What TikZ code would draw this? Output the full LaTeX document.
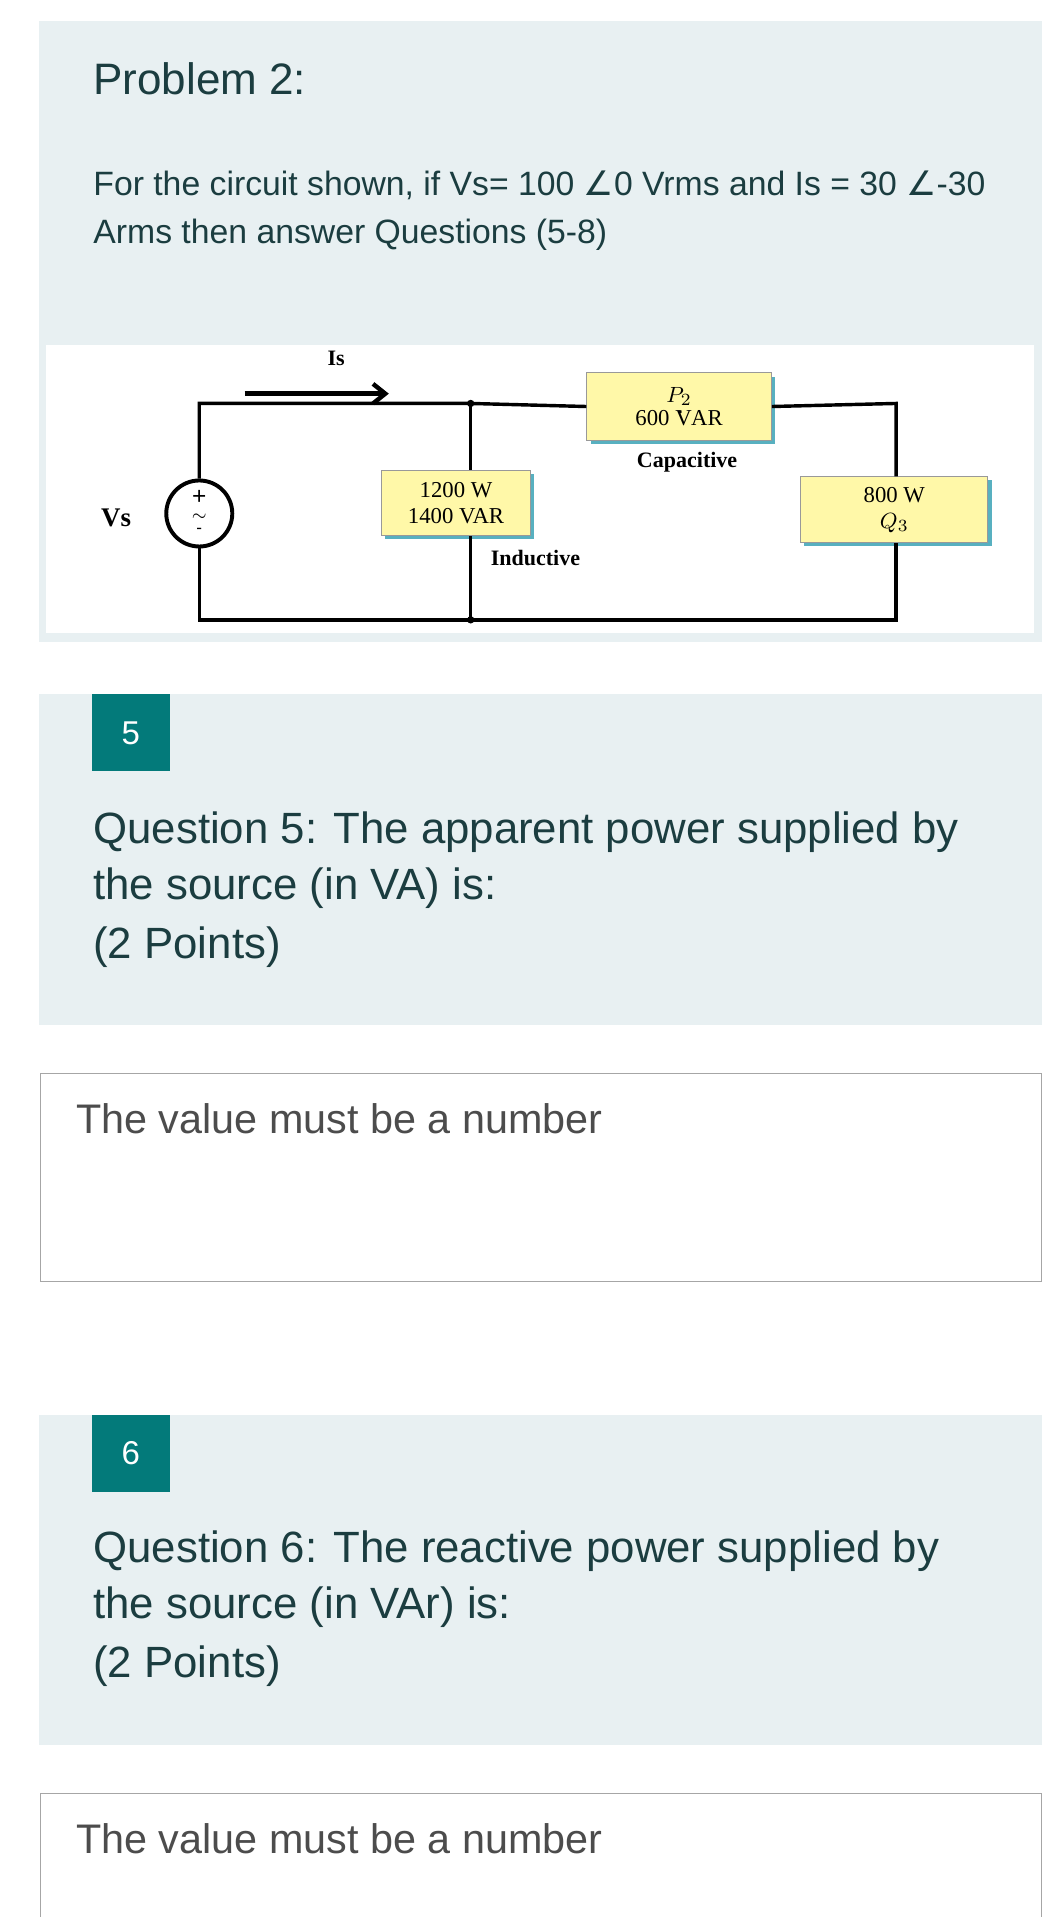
\documentclass[tikz,border=0pt]{standalone}
\usepackage{fontspec}
\usetikzlibrary{arrows.meta}
\setmainfont{Liberation Sans}
\newfontfamily\ser{Liberation Serif}
\newfontfamily\djv{DejaVu Sans}
\begin{document}
\begin{tikzpicture}[x=0.5pt,y=-0.5pt,
  panel/.style={fill=panelc,draw=none},
  qtext/.style={anchor=base west,inner sep=0,text=txtc,font=\fontsize{17.9}{20}\selectfont},
  numbox/.style={fill=tealc,minimum width=32pt,minimum height=31.5pt,inner sep=0,text=white,font=\fontsize{13.5}{15}\selectfont},
  inbox/.style={draw=gray!70,fill=white,line width=0.6pt},
  hint/.style={anchor=base west,inner sep=0,text=black!70,font=\fontsize{16.9}{20}\selectfont},
  load/.style={draw=gray!80,fill=loadc,inner sep=0,font=\ser\fontsize{9.3}{10.5}\selectfont,align=center},
  shadow/.style={fill=shc,draw=none},
  lbl/.style={font=\ser\bfseries\fontsize{9}{10}\selectfont,inner sep=0},
  wire/.style={line width=1.4pt},
  dot/.style={circle,fill=black,inner sep=0,minimum size=3pt}]
\definecolor{panelc}{HTML}{E8F0F2}
\definecolor{tealc}{HTML}{037A7A}
\definecolor{txtc}{HTML}{1B3D40}
\definecolor{loadc}{HTML}{FFF8A8}
\definecolor{shc}{HTML}{58B0C0}
\useasboundingbox (0,0) rectangle (868,1568);
\fill[white] (0,0) rectangle (868,1568);
% panel 1
\fill[panel] (32,17) rectangle (852,525);
\node[qtext,font=\fontsize{18}{20}\selectfont] (p2) at (76,77) {Problem 2:};
\node[qtext,font=\fontsize{13.8}{16}\selectfont] (l1) at (76,160) {For the circuit shown, if Vs= 100 {\djv∠}0 Vrms and Is = 30 {\djv∠}-30};
\node[qtext,font=\fontsize{13.8}{16}\selectfont] (l2) at (76,199) {Arms then answer Questions (5-8)};
\fill[white] (38,282) rectangle (846,518);
% circuit
\coordinate (tl) at (163,330);
\coordinate (bl) at (163,507);
\coordinate (jt) at (385,330);
\coordinate (jb) at (385,507);
\coordinate (tr) at (733,330);
\coordinate (br) at (733,507);
\node[draw,circle,line width=1.6pt,minimum width=27pt,inner sep=0] (src) at (163,420) {};
\node[font=\fontsize{10}{10}\selectfont,inner sep=0] (pl) at (163,407) {+};
\node[font=\fontsize{7}{7}\selectfont,inner sep=0] (wv) at (163,423) {$\sim$};
\node[font=\fontsize{7}{7}\selectfont,inner sep=0] (mi) at (163,434) {-};
\fill[shadow] (315,388) rectangle (437,441);
\node[load,minimum width=61pt,minimum height=26.5pt] (b1) at (373,411.5) {1200 W\\1400 VAR};
\fill[shadow] (483,308) rectangle (634,363);
\node[load,minimum width=75.5pt,minimum height=27.5pt] (b2) at (555.5,332.5) {$P_2$\\[-1pt]600 V\kern-.62em\raise1.1ex\hbox{.}\kern.35em AR};
\fill[shadow] (658,393) rectangle (811,447);
\node[load,minimum width=76.5pt,minimum height=27pt] (b3) at (731.5,417) {800 W\\$Q_3$};
\draw[wire] (src.north) -- (tl) -- (jt) -- (b2.west);
\draw[wire] (b2.east) -- (tr) -- (tr |- b3.north);
\draw[wire] (tr |- b3.south) -- (br) -- (bl) -- (src.south);
\draw[wire] (jt) -- (jt |- b1.north);
\draw[wire] (jt |- b1.south) -- (jb);
\node[dot] (d1) at (jt) {};
\node[dot] (d2) at (jb) {};
\coordinate (a1) at (200,322);
\coordinate (a2) at (318,322);
\draw[line width=1.8pt,-{Straight Barb[length=5pt,width=8pt]}] (a1) -- (a2);
\node[lbl] (is) at (275,293) {Is};
\node[lbl,font=\ser\bfseries\fontsize{11}{11}\selectfont] (vs) at (95,424) {Vs};
\node[lbl] (ind) at (438,456) {Inductive};
\node[lbl] (cap) at (562,378) {Capacitive};
% panel 2
\fill[panel] (32,568) rectangle (852,838);
\node[numbox] (n5) at (107,599.5) {5};
\node[qtext] (q5a) at (76,690) {Question 5: The apparent power supplied by};
\node[qtext] (q5b) at (76,736) {the source (in VA) is:};
\node[qtext] (q5c) at (76,784) {(2 Points)};
\draw[inbox] (33,878) rectangle (852,1048);
\node[hint] (h5) at (62,927) {The value must be a number};
% panel 3
\fill[panel] (32,1157) rectangle (852,1427);
\node[numbox] (n6) at (107,1188.5) {6};
\node[qtext] (q6a) at (76,1278) {Question 6: The reactive power supplied by};
\node[qtext] (q6b) at (76,1324) {the source (in VAr) is:};
\node[qtext] (q6c) at (76,1372) {(2 Points)};
\draw[inbox] (33,1467) rectangle (852,1600);
\node[hint] (h6) at (62,1516) {The value must be a number};
\end{tikzpicture}
\end{document}
